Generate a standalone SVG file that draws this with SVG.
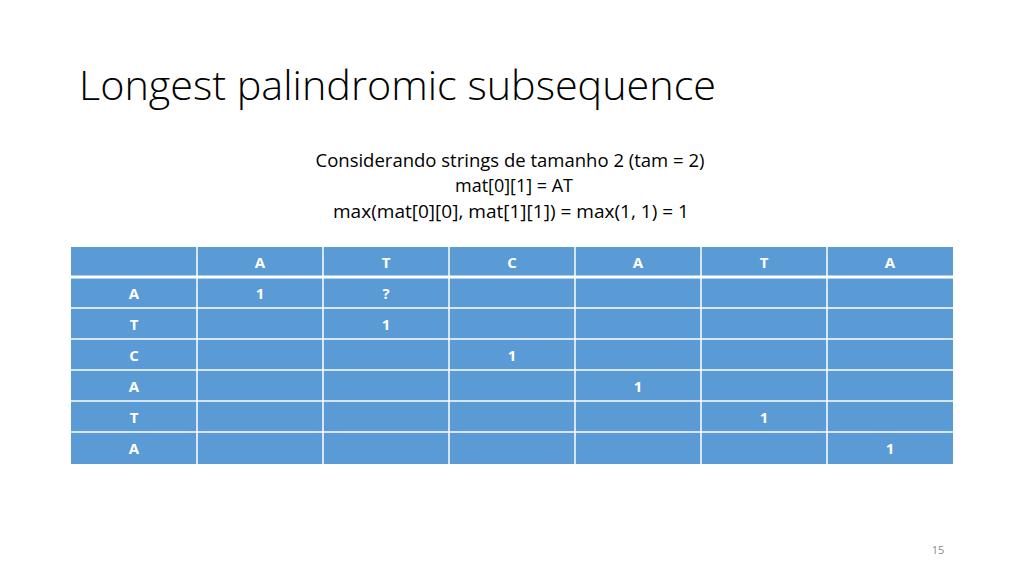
<svg xmlns="http://www.w3.org/2000/svg" width="1024" height="576" viewBox="0 0 1024 576">
<style>
.title{font-family:"Open Sans","Liberation Sans",sans-serif;font-size:40px;fill:#000;font-weight:300}
.sub{font-family:"Open Sans","Liberation Sans",sans-serif;font-size:17.5px;fill:#000;text-anchor:middle}
.cell{fill:#5B9BD5}
.grid{stroke:#fff;stroke-width:1.5}
.t{font-family:"Open Sans","Liberation Sans",sans-serif;font-size:15px;font-weight:bold;fill:#fff;text-anchor:middle}
.pg{font-family:"Open Sans","Liberation Sans",sans-serif;font-size:11px;fill:#8a8a8a;text-anchor:middle}
</style>
<rect width="1024" height="576" fill="#fff"/>
<text class="title" x="79" y="100" textLength="637" lengthAdjust="spacingAndGlyphs">Longest palindromic subsequence</text>
<g id="caption">
<text class="sub" x="510" y="167" textLength="389" lengthAdjust="spacingAndGlyphs">Considerando strings de tamanho 2 (tam = 2)</text>
<text class="sub" x="514" y="192" textLength="118" lengthAdjust="spacingAndGlyphs">mat[0][1] = AT</text>
<text class="sub" x="511" y="218" textLength="356" lengthAdjust="spacingAndGlyphs">max(mat[0][0], mat[1][1]) = max(1, 1) = 1</text>
</g>
<g id="table">
<rect class="cell" x="71" y="247" width="882" height="217"/>
<g class="grid">
<line x1="197" y1="247" x2="197" y2="464"/>
<line x1="323" y1="247" x2="323" y2="464"/>
<line x1="449" y1="247" x2="449" y2="464"/>
<line x1="575" y1="247" x2="575" y2="464"/>
<line x1="701" y1="247" x2="701" y2="464"/>
<line x1="827" y1="247" x2="827" y2="464"/>
<line x1="71" y1="277" x2="953" y2="277" stroke-width="3"/>
<line x1="71" y1="308" x2="953" y2="308"/>
<line x1="71" y1="339" x2="953" y2="339"/>
<line x1="71" y1="370" x2="953" y2="370"/>
<line x1="71" y1="401" x2="953" y2="401"/>
<line x1="71" y1="432" x2="953" y2="432"/>
</g>
<g id="header">
<text class="t" x="260" y="268">A</text>
<text class="t" x="386" y="268">T</text>
<text class="t" x="512" y="268">C</text>
<text class="t" x="638" y="268">A</text>
<text class="t" x="764" y="268">T</text>
<text class="t" x="890" y="268">A</text>
</g>
<g id="rows">
<text class="t" x="134" y="299">A</text>
<text class="t" x="260" y="299">1</text>
<text class="t" x="386" y="299">?</text>
<text class="t" x="134" y="330">T</text>
<text class="t" x="386" y="330">1</text>
<text class="t" x="134" y="361">C</text>
<text class="t" x="512" y="361">1</text>
<text class="t" x="134" y="392">A</text>
<text class="t" x="638" y="392">1</text>
<text class="t" x="134" y="423">T</text>
<text class="t" x="764" y="423">1</text>
<text class="t" x="134" y="454">A</text>
<text class="t" x="890" y="454">1</text>
</g>
</g>
<text class="pg" x="938" y="554">15</text>
</svg>
